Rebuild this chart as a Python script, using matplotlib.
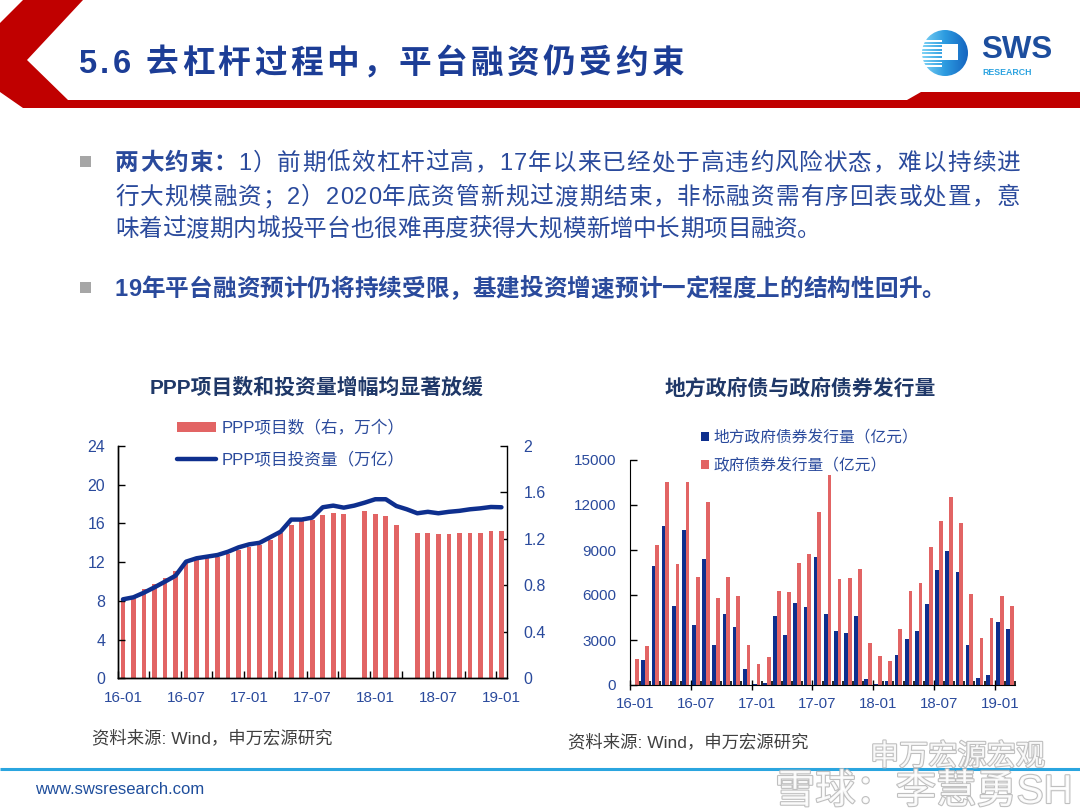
import numpy as np
import matplotlib
matplotlib.use('Agg')
import matplotlib.pyplot as plt
from matplotlib.patches import Polygon, Rectangle, Circle
import matplotlib.patheffects as pe
from matplotlib.colors import LinearSegmentedColormap

plt.rcParams['font.family'] = ['Liberation Sans', 'Noto Sans CJK SC', 'DejaVu Sans']

# ---------------- data ----------------
tick_labels = ['16-01', '16-07', '17-01', '17-07', '18-01', '18-07', '19-01']

# PPP chart: 2016-01 .. 2019-01 (37 months)
ppp_count = [0.674, 0.688, 0.766, 0.809, 0.861, 0.924, 1.013, 1.017, 1.033, 1.048,
             1.070, 1.108, 1.133, 1.150, 1.192, 1.254, 1.317, 1.350, 1.367, 1.408,
             1.425, 1.412, np.nan, 1.440, 1.412, 1.398, 1.320, np.nan, 1.253, 1.253,
             1.239, 1.239, 1.253, 1.253, 1.253, 1.265, 1.265]          # 万个 (right axis)
ppp_invest = [8.16, 8.37, 8.85, 9.40, 9.99, 10.60, 12.05, 12.40, 12.57, 12.74,
              13.08, 13.53, 13.84, 14.00, 14.57, 15.15, 16.40, 16.40, 16.60, 17.67,
              17.84, 17.63, 17.84, 18.15, 18.50, 18.50, 17.80, 17.46, 17.05, 17.20,
              17.05, 17.20, 17.30, 17.46, 17.56, 17.70, 17.67]         # 万亿 (left axis)

# bond chart: 2016-01 .. 2019-02 (38 months), 亿元
local_bond = [0, 1670, 7930, 10600, 5250, 10350, 3980, 8380, 2700, 4750,
              3880, 1060, 60, 120, 4600, 3330, 5490, 5180, 8520, 4710,
              3620, 3440, 4600, 390, 50, 280, 1980, 3070, 3620, 5400,
              7640, 8910, 7530, 2640, 500, 690, 4220, 3720]
govt_bond = [1740, 2580, 9350, 13550, 8100, 13550, 7200, 12170, 5820, 7200,
             5940, 2700, 1380, 1890, 6280, 6180, 8130, 8720, 11560, 14000,
             7050, 7160, 7730, 2830, 1960, 1580, 3720, 6280, 6780, 9200,
             10960, 12530, 10780, 6050, 3130, 4500, 5960, 5280]

ppp_legend = ['PPP项目数（右，万个）', 'PPP项目投资量（万亿）']
bond_legend = ['地方政府债券发行量（亿元）', '政府债券发行量（亿元）']

# ---------------- styles ----------------
W, H = 1080, 810
RED = '#E26464'
NAVY = '#0E2F8E'
TXT_BLUE = '#2A4A9C'
TITLE_BLUE = '#1C3D96'
CHART_TITLE = '#1F3868'
HDR_RED = '#C00000'

fig = plt.figure(figsize=(10.8, 8.1), dpi=100)


def fx(x):
    return x / W


def fy(y):
    return 1 - y / H


# background / decoration axes in pixel coordinates
bg = fig.add_axes([0, 0, 1, 1])
bg.set_xlim(0, W)
bg.set_ylim(H, 0)
bg.axis('off')

# header chevron + red band
hdr = [(23, 0), (83, 0), (27, 60), (68, 100), (907, 100), (921, 92), (1080, 92),
       (1080, 108), (23, 108), (0, 92), (0, 23)]
bg.add_patch(Polygon(hdr, closed=True, facecolor=HDR_RED, edgecolor='none'))

# logo
cx, cy, r = 945, 53, 23
grad = np.linspace(0, 1, 100)[None, :]
cmap = LinearSegmentedColormap.from_list('lg', ['#7FD3F5', '#2C9BE0', '#1565C0'])
circ = Circle((cx, cy), r, transform=bg.transData, facecolor='none', edgecolor='none')
bg.add_patch(circ)
im = bg.imshow(grad, extent=(cx - r, cx + r, cy + r, cy - r), cmap=cmap, aspect='auto')
im.set_clip_path(circ)
for yy in np.arange(40, 67, 3.6):
    bg.add_patch(Rectangle((922, yy), 20, 1.6, facecolor='white', edgecolor='none'))
bg.add_patch(Rectangle((942, 44), 16, 16, facecolor='white', edgecolor='none'))
bg.text(981, 58, 'SWS', fontsize=22.5, weight='bold', color='#1D4E9E',
        ha='left', va='baseline', family='Liberation Sans')
bg.text(982, 68, 'RESEARCH', fontsize=6.3, weight='bold', color='#2CA3E0',
        ha='left', va='top', family='Liberation Sans')


def draw_chars(x0, x1, y_base, segments, fs, color):
    em = fs * 100 / 72
    chars = []
    for text, weight in segments:
        for ch in text:
            chars.append((ch, weight))

    def adv(ch):
        if ord(ch) >= 0x2E80:
            return em
        if ch == ' ':
            return 0.25 * em
        if ch == '.':
            return 0.28 * em
        return 0.556 * em

    widths = [adv(c) for c, _ in chars]
    extra = 0.0
    if x1 is not None and len(chars) > 1:
        extra = (x1 - x0 - sum(widths)) / (len(chars) - 1)
    x = x0
    for (ch, w), wd in zip(chars, widths):
        bg.text(x, y_base, ch, fontsize=fs, weight=w, color=color,
                ha='left', va='baseline')
        x += wd + extra


# slide title
draw_chars(78, 684, 73, [('5.6 去杠杆过程中，平台融资仍受约束', 'bold')], 23.5, TITLE_BLUE)

# bullets
FS = 17
em = FS * 100 / 72
off = 0.38 * em
L1, L2, L3, L4 = 161, 195, 227, 287
for yc in (L1, L4):
    bg.add_patch(Rectangle((80, yc - 5.5), 11, 11, facecolor='#A6A6A6', edgecolor='none'))
draw_chars(115, 1020, L1 + off,
           [('两大约束：', 'bold'),
            ('1）前期低效杠杆过高，17年以来已经处于高违约风险状态，难以持续进', 'normal')],
           FS, TXT_BLUE)
draw_chars(115, 1020, L2 + off,
           [('行大规模融资；2）2020年底资管新规过渡期结束，非标融资需有序回表或处置，意', 'normal')],
           FS, TXT_BLUE)
draw_chars(115, 821, L3 + off,
           [('味着过渡期内城投平台也很难再度获得大规模新增中长期项目融资。', 'normal')],
           FS, TXT_BLUE)
draw_chars(115, 945, L4 + off,
           [('19年平台融资预计仍将持续受限，基建投资增速预计一定程度上的结构性回升。', 'bold')],
           FS, TXT_BLUE)

# chart titles
bg.text(317, 388, 'PPP项目数和投资量增幅均显著放缓', fontsize=15, weight='bold',
        color=CHART_TITLE, ha='center', va='center')
bg.text(800, 388, '地方政府债与政府债券发行量', fontsize=15, weight='bold',
        color=CHART_TITLE, ha='center', va='center')

# sources
bg.text(92, 738, '资料来源: Wind，申万宏源研究', fontsize=12.5, color='#404040',
        ha='left', va='center')
bg.text(568, 742, '资料来源: Wind，申万宏源研究', fontsize=12.5, color='#404040',
        ha='left', va='center')

# footer
bg.plot([0, W], [769, 769], color='#2AA5DF', lw=2.2, solid_capstyle='butt')
bg.text(35, 789, 'www.swsresearch.com', fontsize=12, color='#1F4E9C',
        ha='left', va='center')

# ---------------- left chart ----------------
ax1 = fig.add_axes([fx(117.7), fy(678.3), (506.7 - 117.7) / W, (678.3 - 446) / H])
ax1r = ax1.twinx()
x1 = np.arange(len(ppp_invest))
bars = ax1r.bar(x1, ppp_count, width=0.45, color=RED, zorder=2)
line, = ax1.plot(x1, ppp_invest, color=NAVY, lw=3.2, solid_joinstyle='round',
                 solid_capstyle='round', zorder=3)
ax1.set_zorder(ax1r.get_zorder() + 1)
ax1.patch.set_visible(False)
ax1.set_xlim(-0.5, len(ppp_invest) - 0.5)
ax1.set_ylim(0, 24)
ax1r.set_ylim(0, 2)
ax1.set_yticks(np.arange(0, 25, 4))
ax1r.set_yticks([0, 0.4, 0.8, 1.2, 1.6, 2.0], labels=['0', '0.4', '0.8', '1.2', '1.6', '2'])
ax1.set_xticks(np.arange(-0.5, len(ppp_invest) - 1, 3))
ax1.set_xticks(np.arange(0, len(ppp_invest), 6), labels=tick_labels, minor=True)
ax1.tick_params(axis='x', which='major', direction='in', length=5, width=1,
                labelbottom=False)
ax1.tick_params(axis='x', which='minor', length=0, pad=9, labelsize=11,
                labelcolor=TXT_BLUE)
ax1.tick_params(axis='y', direction='in', length=5, width=1, pad=9, labelsize=11.5,
                labelcolor=TXT_BLUE)
ax1r.tick_params(axis='y', direction='in', length=5, width=1, pad=12, labelsize=11.5,
                 labelcolor=TXT_BLUE)
for a in (ax1, ax1r):
    a.spines['top'].set_visible(False)
    for s in a.spines.values():
        s.set_linewidth(1.0)
ax1.spines['right'].set_visible(False)

fig.legend([bars, line], ppp_legend, loc='upper left',
           bbox_to_anchor=(fx(177), fy(420)), frameon=False, fontsize=12,
           handlelength=2.35, handleheight=0.55, handletextpad=0.3,
           labelspacing=0.95, borderpad=0, borderaxespad=0, labelcolor=TXT_BLUE)

# ---------------- right chart ----------------
ax2 = fig.add_axes([fx(630), fy(685), 385 / W, 225 / H])
x2 = np.arange(len(govt_bond))
b1 = ax2.bar(x2 - 0.185, local_bond, width=0.37, color=NAVY)
b2 = ax2.bar(x2 + 0.185, govt_bond, width=0.37, color=RED)
ax2.set_xlim(-0.5, len(govt_bond) - 0.5)
ax2.set_ylim(0, 15000)
ax2.set_yticks(np.arange(0, 15001, 3000))
ax2.set_xticks(np.arange(-0.5, len(govt_bond) - 1, 6))
ax2.set_xticks(np.arange(-0.5, len(govt_bond), 1), minor=True)
ax2.tick_params(axis='x', which='major', direction='inout', length=7, width=1,
                labelbottom=False)
ax2.tick_params(axis='x', which='minor', direction='in', length=3, width=1.2)
ax2.tick_params(axis='y', direction='in', length=5, width=1, pad=10, labelsize=11,
                labelcolor=TXT_BLUE)
for s in ('top', 'right'):
    ax2.spines[s].set_visible(False)
sec = ax2.secondary_xaxis('bottom')
sec.set_xticks(np.arange(0, len(govt_bond), 6), labels=tick_labels)
sec.tick_params(axis='x', length=0, pad=9, labelsize=10.8, labelcolor=TXT_BLUE)
sec.spines['bottom'].set_visible(False)

fig.legend([b1, b2], bond_legend, loc='upper left',
           bbox_to_anchor=(fx(701), fy(430)), frameon=False, fontsize=11.3,
           handlelength=0.5, handleheight=0.5, handletextpad=0.3,
           labelspacing=0.8, borderpad=0, borderaxespad=0, labelcolor=TXT_BLUE)

# watermark
wm_fx = [pe.withStroke(linewidth=1.6, foreground='#B8B8B8')]
fig.text(fx(870), fy(757), '申万宏源宏观', fontsize=21, color='white', alpha=0.9,
         ha='left', va='center', path_effects=wm_fx)
fig.text(fx(775), fy(792), '雪球：李慧勇SH', fontsize=29, color='white', alpha=0.9,
         ha='left', va='center', path_effects=wm_fx)

fig.savefig('out.png', dpi=100)
